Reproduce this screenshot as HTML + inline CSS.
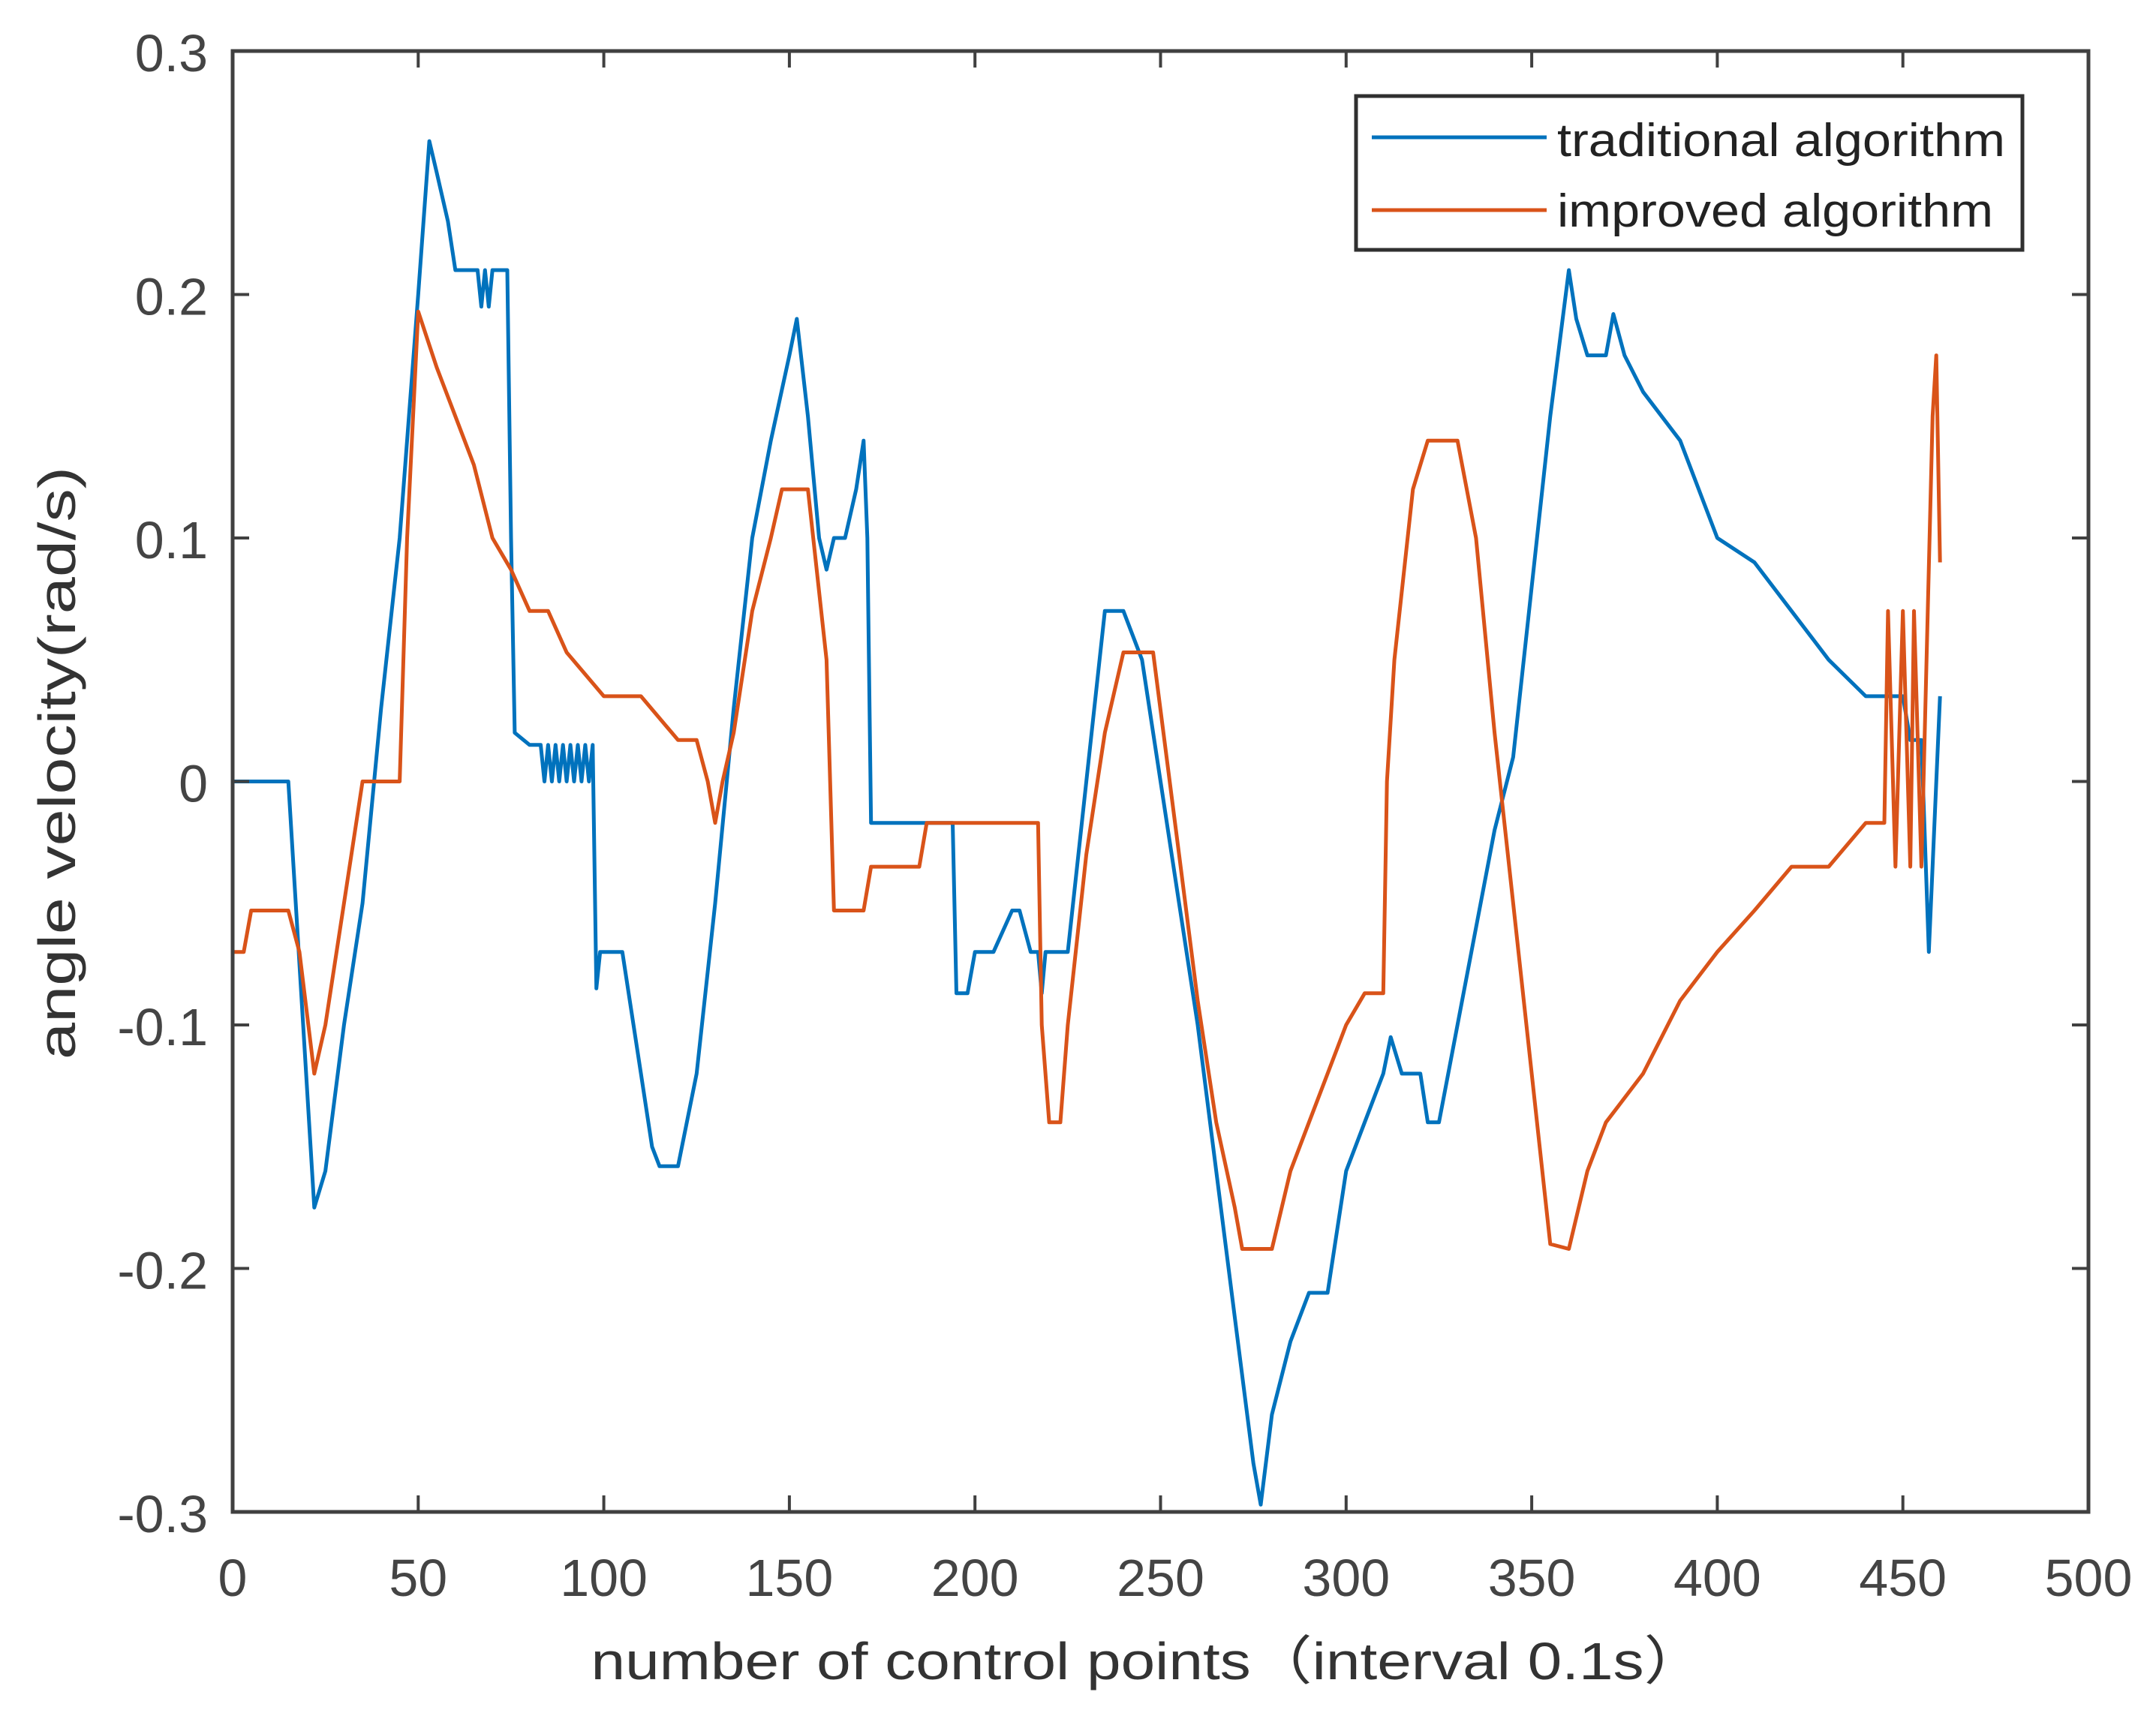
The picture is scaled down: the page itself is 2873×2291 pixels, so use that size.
<!DOCTYPE html>
<html><head><meta charset="utf-8"><style>
html,body{margin:0;padding:0;background:#fff;}
svg{display:block;font-family:"Liberation Sans","Noto Sans CJK SC",sans-serif;}
</style></head><body>
<svg id="chart" width="2873" height="2291" viewBox="0 0 2873 2291" xmlns="http://www.w3.org/2000/svg">
<rect width="2873" height="2291" fill="#fff"/>
<g id="plot"></g>
<rect x="310" y="68" width="2473" height="1947" fill="none" stroke="#404040" stroke-width="5"/>
<g id="ticks"></g>
<text transform="translate(100,1017) rotate(-90)" text-anchor="middle" font-size="70" fill="#333" textLength="790" lengthAdjust="spacingAndGlyphs">angle velocity(rad/s)</text>
<text x="1530" y="2238" text-anchor="middle" font-size="70" fill="#333" textLength="1485" lengthAdjust="spacingAndGlyphs">number of control points（interval 0.1s）</text>
<g>
<rect x="1807" y="128" width="888" height="205" fill="#fff" stroke="#303030" stroke-width="5"/>
<line x1="1828" y1="183" x2="2061" y2="183" stroke="#0072BD" stroke-width="5"/>
<text x="2075" y="208" font-size="62" fill="#222" textLength="597" lengthAdjust="spacingAndGlyphs">traditional algorithm</text>
<line x1="1828" y1="280" x2="2061" y2="280" stroke="#D95319" stroke-width="5"/>
<text x="2075" y="302" font-size="62" fill="#222" textLength="581" lengthAdjust="spacingAndGlyphs">improved algorithm</text>
</g>
</svg>
<script>
const xTicks = [0,50,100,150,200,250,300,350,400,450,500];
const yTicks = [0.3,0.2,0.1,0,-0.1,-0.2,-0.3];
const yTickLabels = ["0.3","0.2","0.1","0","-0.1","-0.2","-0.3"];
const tradX = [0,15,22,25,30,35,40,45,50,53,55,58,60,66,67,68,69,70,72,74,75,76,80,83,84,85,86,87,88,89,90,91,92,93,94,95,96,97,98,99,105,110,113,115,120,125,130,135,140,145,150,152,155,158,160,162,165,168,170,171,172,190,194,195,198,200,205,210,212,215,217,218,219,225,230,235,240,245,250,255,260,265,270,275,277,280,285,290,295,300,305,310,312,315,320,322,325,330,335,340,345,350,355,360,362,365,370,372,375,380,390,400,410,420,430,440,445,450,452,455,457,460];
const tradY = [0,0,-0.175,-0.16,-0.1,-0.05,0.03,0.1,0.2,0.263,0.25,0.23,0.21,0.21,0.195,0.21,0.195,0.21,0.21,0.21,0.1,0.02,0.015,0.015,0,0.015,0,0.015,0,0.015,0,0.015,0,0.015,0,0.015,0,0.015,-0.085,-0.07,-0.07,-0.12,-0.15,-0.158,-0.158,-0.12,-0.05,0.03,0.1,0.14,0.175,0.19,0.15,0.1,0.087,0.1,0.1,0.12,0.14,0.1,-0.017,-0.017,-0.017,-0.087,-0.087,-0.07,-0.07,-0.053,-0.053,-0.07,-0.07,-0.087,-0.07,-0.07,0,0.07,0.07,0.05,0,-0.05,-0.1,-0.16,-0.22,-0.28,-0.297,-0.26,-0.23,-0.21,-0.21,-0.16,-0.14,-0.12,-0.105,-0.12,-0.12,-0.14,-0.14,-0.1,-0.06,-0.02,0.01,0.08,0.15,0.21,0.19,0.175,0.175,0.192,0.175,0.16,0.14,0.1,0.09,0.07,0.05,0.035,0.035,0.035,0.017,0.017,-0.07,0.035];
const impX = [0,3,5,15,18,22,25,30,35,45,47,50,55,60,65,70,75,80,85,90,100,110,120,125,128,130,132,135,140,145,148,155,160,162,170,172,185,187,217,218,220,223,225,230,235,240,248,255,260,265,270,272,280,285,290,295,300,305,310,311,313,318,322,330,335,340,345,350,355,360,365,370,380,390,400,410,420,430,440,445,446,448,450,452,453,455,458,459,460];
const impY = [-0.07,-0.07,-0.053,-0.053,-0.07,-0.12,-0.1,-0.05,0,0,0.1,0.193,0.17,0.15,0.13,0.1,0.087,0.07,0.07,0.053,0.035,0.035,0.017,0.017,0,-0.017,0,0.02,0.07,0.1,0.12,0.12,0.05,-0.053,-0.053,-0.035,-0.035,-0.017,-0.017,-0.1,-0.14,-0.14,-0.1,-0.03,0.02,0.053,0.053,-0.03,-0.09,-0.14,-0.175,-0.192,-0.192,-0.16,-0.14,-0.12,-0.1,-0.087,-0.087,0,0.05,0.12,0.14,0.14,0.1,0.02,-0.05,-0.12,-0.19,-0.192,-0.16,-0.14,-0.12,-0.09,-0.07,-0.053,-0.035,-0.035,-0.017,-0.017,0.07,-0.035,0.07,-0.035,0.07,-0.035,0.15,0.175,0.09];

const L=310,R=2783,T=68,B=2015;
const xs = v => L + (v-0)/(500-0)*(R-L);
const ys = v => B - (v+0.3)/0.6*(B-T);
const NS="http://www.w3.org/2000/svg";
const plot=document.getElementById('plot');
const ticks=document.getElementById('ticks');
function mk(tag,attrs,parent){const e=document.createElementNS(NS,tag);for(const k in attrs)e.setAttribute(k,attrs[k]);parent.appendChild(e);return e;}

xTicks.forEach((v,i)=>{
  const x=xs(v);
  const t1=mk('line',{x1:x,y1:B,x2:x,y2:B-22,stroke:'#404040','stroke-width':4},ticks);
  
  
  const t2=mk('line',{x1:x,y1:T,x2:x,y2:T+22,stroke:'#404040','stroke-width':4},ticks);
  
  
  const lb=mk('text',{x:x,y:2127,'text-anchor':'middle','font-size':70,fill:'#444'},ticks);
  lb.textContent=String(v);
  
  
});
yTicks.forEach((v,i)=>{
  const y=ys(v);
  const t1=mk('line',{x1:L,y1:y,x2:L+22,y2:y,stroke:'#404040','stroke-width':4},ticks);
  
  
  const t2=mk('line',{x1:R,y1:y,x2:R-22,y2:y,stroke:'#404040','stroke-width':4},ticks);
  
  
  const lb=mk('text',{x:277,y:y+27,'text-anchor':'end','font-size':70,fill:'#444'},ticks);
  lb.textContent=yTickLabels[i];
  
  
});
function series(X,Y,color,name){
  const pts=X.map((v,i)=>xs(v).toFixed(1)+','+ys(Y[i]).toFixed(1)).join(' ');
  const p=mk('polyline',{points:pts,fill:'none',stroke:color,'stroke-width':5,'stroke-linejoin':'round'},plot);
  
  
}
series(tradX,tradY,'#0072BD','traditional-algorithm-line');
series(impX,impY,'#D95319','improved-algorithm-line');
</script>
</body></html>
